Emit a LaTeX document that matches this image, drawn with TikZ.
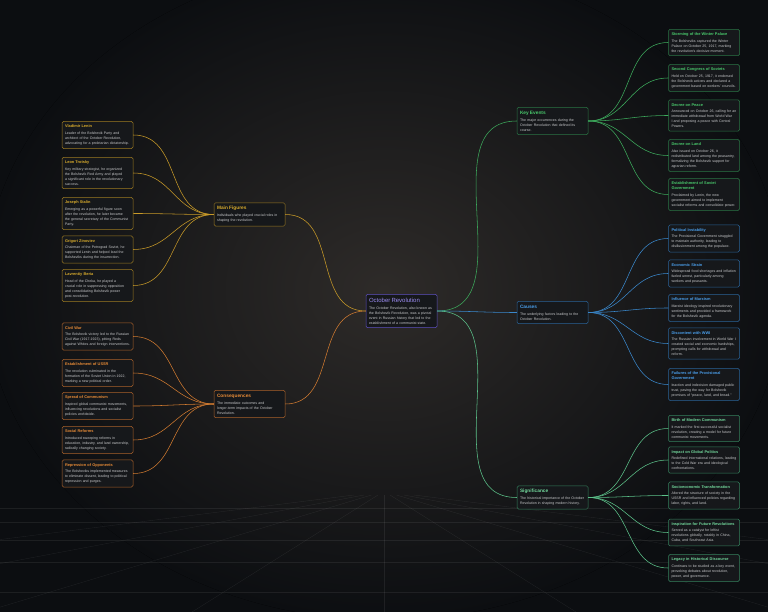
\documentclass[tikz,border=0pt]{standalone}
\usepackage{fontspec}
\setmainfont{Liberation Sans}
\usetikzlibrary{calc}
\hyphenpenalty=10000
\exhyphenpenalty=10000
\definecolor{bg}{HTML}{0C0E11}
\definecolor{glow}{HTML}{2E2B29}
\definecolor{boxfill}{HTML}{16181B}
\definecolor{bodytext}{HTML}{C9CACC}
\definecolor{purT}{HTML}{9C8CF2}\definecolor{purB}{HTML}{5E50C0}
\definecolor{golT}{HTML}{D9AC2C}\definecolor{golB}{HTML}{9C7A22}\definecolor{golL}{HTML}{C89A28}
\definecolor{oraT}{HTML}{E58A36}\definecolor{oraB}{HTML}{A8602A}\definecolor{oraL}{HTML}{D07A30}
\definecolor{grnT}{HTML}{49C96C}\definecolor{grnB}{HTML}{2A7444}\definecolor{grnL}{HTML}{3DAA5C}
\definecolor{bluT}{HTML}{4A9EEA}\definecolor{bluB}{HTML}{2A6296}\definecolor{bluL}{HTML}{3A88CC}
\definecolor{minT}{HTML}{72D89C}\definecolor{minB}{HTML}{34805C}\definecolor{minL}{HTML}{5CC28A}
\tikzset{
  box/.style={draw=#1, fill=boxfill, rounded corners=1.5pt, line width=0.5pt,
    text width=65pt, inner xsep=3pt, inner ysep=3.5pt, align=left, text=bodytext,
    font=\fontsize{3.55}{5}\selectfont},
  link/.style={draw=#1, line width=0.55pt},
}
\newcommand\hd[2]{{\color{#1}\bfseries\fontsize{3.9}{5}\selectfont #2\par}\vspace{1.6pt}}
\newcommand\bhd[2]{{\color{#1}\bfseries\fontsize{4.8}{6}\selectfont #2\par}\vspace{2pt}}
\begin{document}
\begin{tikzpicture}[x=1pt,y=-1pt]
\useasboundingbox (0,0) rectangle (768,612);
\fill[bg] (0,0) rectangle (768,612);
\fill[inner color=glow, outer color=bg] (384,290) ellipse (400 and 330);
% floor grid
\begin{scope}[draw=white, opacity=0.07, line width=0.4pt]
  \foreach \yy in {508,522,540,562,592} \draw (0,\yy) -- (768,\yy);
  \foreach \xx in {-600,-400,-250,-120,0,120,250,400,600} \draw (384,495) ++(\xx*0.05,0) -- (384+\xx*1.6,612);
\end{scope}

% center
\node[box=purB, text width=65pt] (c) at (401.5,311)
  {\bhd{purT}{\fontsize{6}{7}\selectfont\mdseries October Revolution}The October Revolution, also known as the Bolshevik Revolution, was a pivotal event in Russian history that led to the establishment of a communist state.};

% branches
\node[box=golB] (mf) at (249.5,214.5) {\bhd{golT}{Main Figures}Individuals who played crucial roles in shaping the revolution.};
\node[box=oraB] (cq) at (249.5,404) {\bhd{oraT}{Consequences}The immediate outcomes and longer-term impacts of the October Revolution.};
\node[box=grnB] (ke) at (552.5,121) {\bhd{grnT}{Key Events}The major occurrences during the October Revolution that defined its course.};
\node[box=bluB] (ca) at (552.5,312.5) {\bhd{bluT}{Causes}The underlying factors leading to the October Revolution.};
\node[box=minB] (sg) at (552.5,497.5) {\bhd{minT}{Significance}The historical importance of the October Revolution in shaping modern history.};

% main figures leaves
\node[box=golB] (l1) at (97.5,135) {\hd{golT}{Vladimir Lenin}Leader of the Bolshevik Party and architect of the October Revolution, advocating for a proletarian dictatorship.};
\node[box=golB] (l2) at (97.5,173) {\hd{golT}{Leon Trotsky}Key military strategist, he organized the Bolshevik Red Army and played a significant role in the revolutionary success.};
\node[box=golB] (l3) at (97.5,213.5) {\hd{golT}{Joseph Stalin}Emerging as a powerful figure soon after the revolution, he later became the general secretary of the Communist Party.};
\node[box=golB] (l4) at (97.5,249.5) {\hd{golT}{Grigori Zinoviev}Chairman of the Petrograd Soviet, he supported Lenin and helped lead the Bolsheviks during the insurrection.};
\node[box=golB] (l5) at (97.5,285.5) {\hd{golT}{Lavrentiy Beria}Head of the Cheka, he played a crucial role in suppressing opposition and consolidating Bolshevik power post-revolution.};

% consequences leaves
\node[box=oraB] (q1) at (97.5,336.5) {\hd{oraT}{Civil War}The Bolshevik victory led to the Russian Civil War (1917-1923), pitting Reds against Whites and foreign interventions.};
\node[box=oraB] (q2) at (97.5,373) {\hd{oraT}{Establishment of USSR}The revolution culminated in the formation of the Soviet Union in 1922, marking a new political order.};
\node[box=oraB] (q3) at (97.5,406) {\hd{oraT}{Spread of Communism}Inspired global communist movements, influencing revolutions and socialist policies worldwide.};
\node[box=oraB] (q4) at (97.5,440) {\hd{oraT}{Social Reforms}Introduced sweeping reforms in education, industry, and land ownership, radically changing society.};
\node[box=oraB] (q5) at (97.5,473.5) {\hd{oraT}{Repression of Opponents}The Bolsheviks implemented measures to eliminate dissent, leading to political repression and purges.};

% key events leaves
\node[box=grnB] (k1) at (704,42.5) {\hd{grnT}{Storming of the Winter Palace}The Bolsheviks captured the Winter Palace on October 25, 1917, marking the revolution's decisive moment.};
\node[box=grnB] (k2) at (704,78) {\hd{grnT}{Second Congress of Soviets}Held on October 25, 1917, it endorsed the Bolshevik actions and declared a government based on workers' councils.};
\node[box=grnB] (k3) at (704,115.5) {\hd{grnT}{Decree on Peace}Announced on October 26, calling for an immediate withdrawal from World War I and proposing a peace with Central Powers.};
\node[box=grnB] (k4) at (704,155.5) {\hd{grnT}{Decree on Land}Also issued on October 26, it redistributed land among the peasantry, formalizing the Bolshevik support for agrarian reform.};
\node[box=grnB] (k5) at (704,194.5) {\hd{grnT}{Establishment of Soviet Government}Proclaimed by Lenin, the new government aimed to implement socialist reforms and consolidate power.};

% causes leaves
\node[box=bluB] (a1) at (704,238.5) {\hd{bluT}{Political Instability}The Provisional Government struggled to maintain authority, leading to disillusionment among the populace.};
\node[box=bluB] (a2) at (704,273.5) {\hd{bluT}{Economic Strain}Widespread food shortages and inflation fueled unrest, particularly among workers and peasants.};
\node[box=bluB] (a3) at (704,308) {\hd{bluT}{Influence of Marxism}Marxist ideology inspired revolutionary sentiments and provided a framework for the Bolshevik agenda.};
\node[box=bluB] (a4) at (704,343.5) {\hd{bluT}{Discontent with WWI}The Russian involvement in World War I created social and economic hardships, prompting calls for withdrawal and reform.};
\node[box=bluB] (a5) at (704,384.5) {\hd{bluT}{Failures of the Provisional Government}Inaction and indecision damaged public trust, paving the way for Bolshevik promises of ``peace, land, and bread.''};

% significance leaves
\node[box=minB] (s1) at (704,428.5) {\hd{minT}{Birth of Modern Communism}It marked the first successful socialist revolution, creating a model for future communist movements.};
\node[box=minB] (s2) at (704,460) {\hd{minT}{Impact on Global Politics}Redefined international relations, leading to the Cold War era and ideological confrontations.};
\node[box=minB] (s3) at (704,495.5) {\hd{minT}{Socioeconomic Transformation}Altered the structure of society in the USSR and influenced policies regarding labor, rights, and land.};
\node[box=minB] (s4) at (704,532.5) {\hd{minT}{Inspiration for Future Revolutions}Served as a catalyst for leftist revolutions globally, notably in China, Cuba, and Southeast Asia.};
\node[box=minB] (s5) at (704,568) {\hd{minT}{Legacy in Historical Discourse}Continues to be studied as a key event, provoking debates about revolution, power, and governance.};

% connectors
\draw[link=golL] (c.west) to[out=180,in=0,looseness=1.1] (mf.east);
\draw[link=oraL] (c.west) to[out=180,in=0,looseness=1.1] (cq.east);
\draw[link=grnL] (c.east) to[out=0,in=180,looseness=1.1] (ke.west);
\draw[link=bluL] (c.east) to[out=0,in=180,looseness=1.1] (ca.west);
\draw[link=minL] (c.east) to[out=0,in=180,looseness=1.1] (sg.west);
\foreach \n in {l1,l2,l3,l4,l5} \draw[link=golL] (mf.west) to[out=180,in=0,looseness=1.1] (\n.east);
\foreach \n in {q1,q2,q3,q4,q5} \draw[link=oraL] (cq.west) to[out=180,in=0,looseness=1.1] (\n.east);
\foreach \n in {k1,k2,k3,k4,k5} \draw[link=grnL] (ke.east) to[out=0,in=180,looseness=1.1] (\n.west);
\foreach \n in {a1,a2,a3,a4,a5} \draw[link=bluL] (ca.east) to[out=0,in=180,looseness=1.1] (\n.west);
\foreach \n in {s1,s2,s3,s4,s5} \draw[link=minL] (sg.east) to[out=0,in=180,looseness=1.1] (\n.west);
\end{tikzpicture}
\end{document}
